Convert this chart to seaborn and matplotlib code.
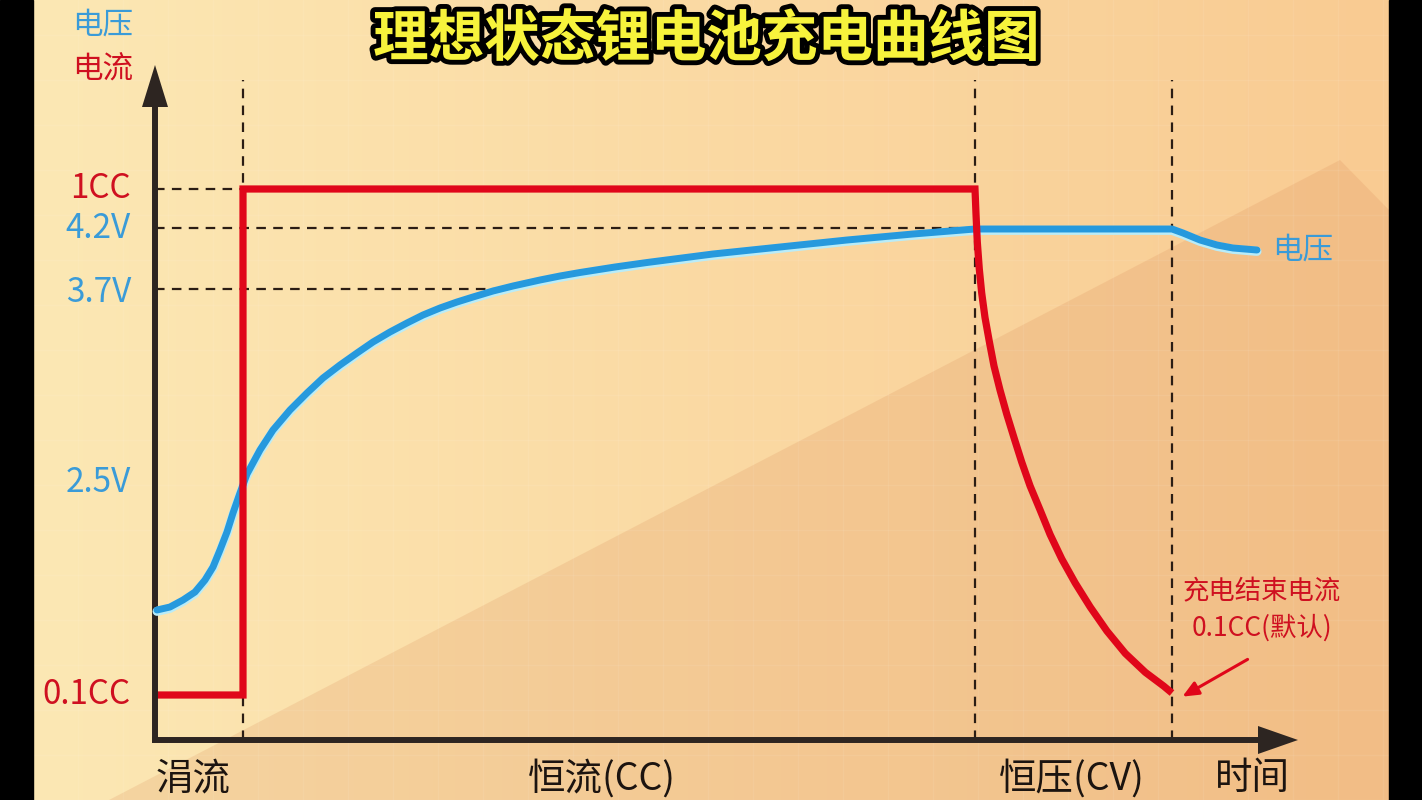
import numpy as np
import pandas as pd
import seaborn as sns
import matplotlib.pyplot as plt
import matplotlib.patheffects as pe

sns.set_theme(style="white")
plt.rcParams['font.family'] = ['Noto Sans CJK SC', 'DejaVu Sans']

# 数据 (示意图单位: 时间 / 纵轴高度)
cur_t = [0.3, 8.8, 8.8, 82.0, 82.1, 82.23, 82.43, 82.67, 83.0, 83.44, 83.9, 84.5, 85.17, 85.91,
         86.67, 87.51, 88.51, 89.51, 90.68, 92.02, 93.52, 95.19, 97.03, 99.03, 100.87, 101.7]
cur_v = [4.5, 4.5, 55.1, 55.1, 52.6, 49.8, 47.1, 44.7, 42.25, 39.8, 37.4, 35.0, 32.6, 30.2,
         27.8, 25.4, 23.0, 20.55, 18.1, 15.7, 13.3, 10.9, 8.66, 6.77, 5.39, 4.7]

volt_t = [0.2, 1.5, 2.8, 4.0, 5.0, 5.8, 6.5, 7.2, 7.8, 8.5, 9.2, 10.5, 11.8, 13.5, 15.2, 16.8,
          18.5, 20.2, 21.8, 23.5, 25.2, 26.8, 28.5, 30.2, 31.8, 33.8, 35.8, 38.5, 40.5, 42.5,
          46.0, 49.2, 55.8, 62.5, 69.2, 75.8, 82.0, 101.7, 102.8, 104.5, 106.2, 107.8, 110.2]
volt_v = [13.0, 13.3, 14.0, 14.8, 16.0, 17.3, 19.0, 20.8, 22.7, 24.7, 26.6, 29.0, 31.0, 33.0,
          34.7, 36.2, 37.5, 38.7, 39.8, 40.8, 41.7, 42.5, 43.2, 43.8, 44.3, 44.9, 45.4, 46.0,
          46.4, 46.75, 47.3, 47.75, 48.6, 49.3, 50.0, 50.6, 51.1, 51.1, 50.7, 50.0, 49.5, 49.2, 49.0]

tick_labels = ['1CC', '4.2V', '3.7V', '2.5V', '0.1CC']
tick_levels = [55.2, 51.2, 44.8, 25.8, 4.5]
tick_colors = ['red', 'blue', 'blue', 'blue', 'red']

phase_edges = [8.8, 82.0, 101.7]
phase_labels = ['涓流', '恒流(CC)', '恒压(CV)', '时间']
phase_pos = [3.8, 44.7, 91.7, 109.7]

# 虚线参考
ref_levels = [55.1, 51.2, 45.1]
ref_ends = [8.8, 82.0, 34.2]

RED = '#e0061a'
BLUE = '#2699dd'
RED_TXT = '#cf1020'
BLUE_TXT = '#3a9bd8'
DARK = '#2d2521'

fig = plt.figure(figsize=(14.22, 8), dpi=100)
ax = fig.add_axes([0, 0, 1, 1])

# 背景
w = 200
left = np.array([252, 232, 180]) / 255
right = np.array([249, 203, 146]) / 255
frac = np.linspace(0, 1, w)[None, :, None]
bg = left * (1 - frac) + right * frac
bg = np.repeat(bg, 2, axis=0)
ax.imshow(bg, extent=(-12.2, 123.4, -6, 74), aspect='auto', zorder=0, interpolation='bilinear')
ax.fill([-4.6, 118.5, 123.4, 123.4], [-6, 58, 53, -6], color=(215/255, 130/255, 80/255),
        alpha=0.18, lw=0, zorder=0.5)
for gx in np.arange(-12.2, 123.4, 4.5):
    ax.axvline(gx, color='white', alpha=0.07, lw=1, zorder=0.6)
for gy in np.arange(-6, 74, 4.5):
    ax.axhline(gy, color='white', alpha=0.07, lw=1, zorder=0.6)
ax.axvspan(-15.5, -12.2, color='black', zorder=0.7)
ax.axvspan(123.4, 126.7, color='black', zorder=0.7)

dash = (0, (4.3, 3.3))
for x in phase_edges:
    ax.plot([x, x], [0, 66], color='#2b1d14', lw=1.6, ls=dash, zorder=2)
for lvl, end in zip(ref_levels, ref_ends):
    ax.plot([0, end], [lvl, lvl], color='#2b1d14', lw=1.6, ls=dash, zorder=2)

# 坐标轴箭头
ax.plot([0, 0], [0, 63.6], color=DARK, lw=4.3, solid_capstyle='butt', zorder=3)
ax.plot([-0.3, 110.4], [0, 0], color=DARK, lw=4.3, solid_capstyle='butt', zorder=3)
ax.fill([-1.3, 1.3, 0], [63.3, 63.3, 67.5], color=DARK, lw=0, zorder=3)
ax.fill([110.3, 110.3, 114.3], [1.4, -1.4, 0], color=DARK, lw=0, zorder=3)

# 曲线
volt_df = pd.DataFrame({'t': volt_t, 'v': volt_v})
cur_df = pd.DataFrame({'t': cur_t, 'v': cur_v})
sns.lineplot(data=volt_df, x='t', y='v', ax=ax, color=BLUE, lw=5, sort=False, estimator=None,
             solid_capstyle='round', solid_joinstyle='round', zorder=4,
             path_effects=[pe.Stroke(linewidth=6.5, foreground='#b9ecf8', offset=(0, -1)), pe.Normal()])
sns.lineplot(data=cur_df, x='t', y='v', ax=ax, color=RED, lw=5.2, sort=False, estimator=None,
             solid_capstyle='butt', solid_joinstyle='miter', zorder=5)
ax.set_xlim(-15.5, 126.7)
ax.set_ylim(-6, 74)
ax.axis('off')

# 文字
for lab, lvl, c in zip(tick_labels, tick_levels, tick_colors):
    ax.text(-2.4, lvl, lab, ha='right', va='center', fontsize=24, fontweight='medium',
            color=RED_TXT if c == 'red' else BLUE_TXT, zorder=6)
ax.text(-5.2, 71.5, '电压', ha='center', va='center', fontsize=22, fontweight='medium', color=BLUE_TXT)
ax.text(-5.2, 67.0, '电流', ha='center', va='center', fontsize=22, fontweight='medium', color=RED_TXT)
for lab, x in zip(phase_labels, phase_pos):
    ax.text(x, -3.9, lab, ha='center', va='center', fontsize=27, fontweight='medium', color='#1c1410')
ax.text(111.7, 49.0, '电压', ha='left', va='center', fontsize=22, fontweight='medium', color=BLUE_TXT)
ax.text(110.7, 14.8, '充电结束电流', ha='center', va='center', fontsize=19, fontweight='medium', color=RED_TXT)
ax.text(110.7, 11.2, '0.1CC(默认)', ha='center', va='center', fontsize=19, fontweight='medium', color=RED_TXT)
ax.annotate('', xy=(102.5, 4.2), xytext=(109.5, 8.2),
            arrowprops=dict(arrowstyle='-|>,head_length=0.8,head_width=0.35', color=RED, lw=2.2))

ax.text(55.1, 70.0, '理想状态锂电池充电曲线图', ha='center', va='center', fontsize=40,
        fontweight='bold', color='#f7f33c', zorder=7,
        path_effects=[pe.Stroke(linewidth=7, foreground='black'), pe.Normal()])

fig.savefig('out.png', dpi=100)
